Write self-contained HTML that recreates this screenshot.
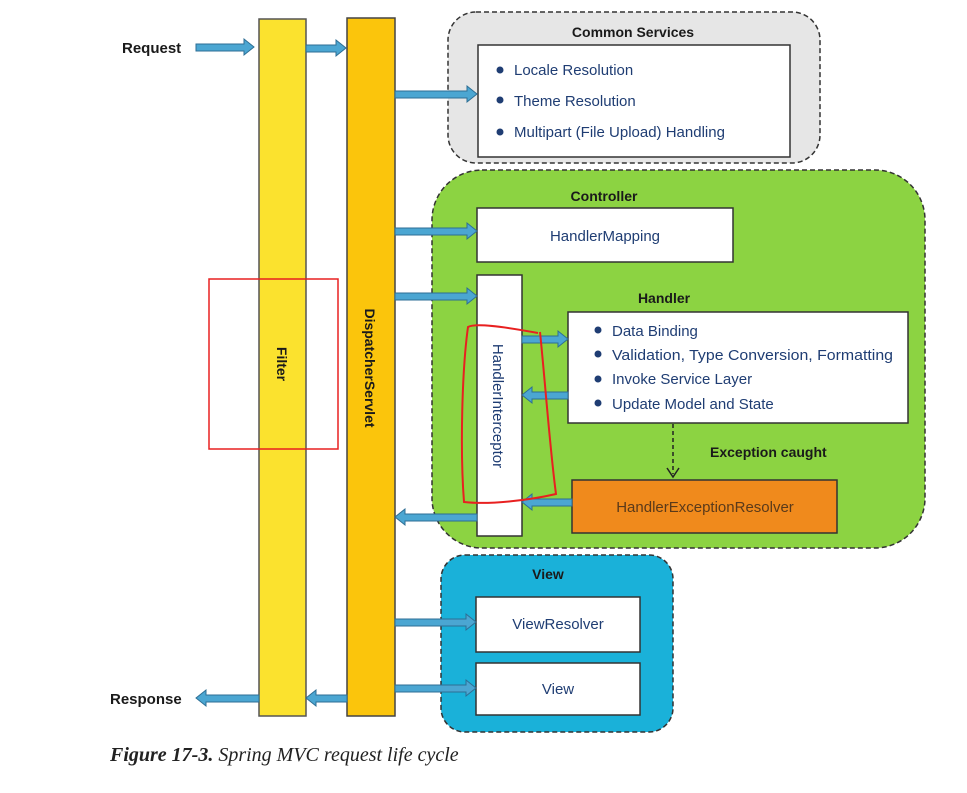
<!DOCTYPE html>
<html><head><meta charset="utf-8"><style>
html,body{margin:0;padding:0;background:#fff;width:967px;height:793px;overflow:hidden}
svg{display:block}
.t{font-family:"Liberation Sans",sans-serif;font-weight:bold;font-size:14px;fill:#1a1a1a}
.b{font-family:"Liberation Sans",sans-serif;font-size:15px;fill:#1f3d73}
.a{fill:#4ba6d2;stroke:#2d6e94;stroke-width:1}
.cap{font-family:"Liberation Serif",serif;font-style:italic;font-size:20px;fill:#222}
</style></head><body>
<svg width="967" height="793" viewBox="0 0 967 793">
<rect x="448" y="12" width="372" height="151" rx="28" fill="#e6e6e6" stroke="#333" stroke-width="1.5" stroke-dasharray="5,3"/>
<text x="633" y="37" text-anchor="middle" class="t">Common Services</text>
<rect x="478" y="45" width="312" height="112" fill="#fff" stroke="#333" stroke-width="1.5"/>
<circle cx="500" cy="70" r="3.5" fill="#1f3d73"/><text x="514" y="75" class="b">Locale Resolution</text>
<circle cx="500" cy="100" r="3.5" fill="#1f3d73"/><text x="514" y="106" class="b">Theme Resolution</text>
<circle cx="500" cy="132" r="3.5" fill="#1f3d73"/><text x="514" y="137" class="b">Multipart (File Upload) Handling</text>
<rect x="432" y="170" width="493" height="378" rx="50" fill="#8cd342" stroke="#333" stroke-width="1.5" stroke-dasharray="5,3"/>
<text x="604" y="201" text-anchor="middle" class="t">Controller</text>
<rect x="477" y="208" width="256" height="54" fill="#fff" stroke="#333" stroke-width="1.5"/>
<text x="605" y="241" text-anchor="middle" class="b">HandlerMapping</text>
<rect x="477" y="275" width="45" height="261" fill="#fff" stroke="#333" stroke-width="1.5"/>
<text transform="translate(493,406) rotate(90)" text-anchor="middle" class="b">HandlerInterceptor</text>
<text x="664" y="303" text-anchor="middle" class="t">Handler</text>
<rect x="568" y="312" width="340" height="111" fill="#fff" stroke="#333" stroke-width="1.5"/>
<circle cx="598" cy="330" r="3.5" fill="#1f3d73"/><text x="612" y="336" class="b">Data Binding</text>
<circle cx="598" cy="354" r="3.5" fill="#1f3d73"/><text x="612" y="360" class="b" textLength="281" lengthAdjust="spacingAndGlyphs">Validation, Type Conversion, Formatting</text>
<circle cx="598" cy="379" r="3.5" fill="#1f3d73"/><text x="612" y="384" class="b">Invoke Service Layer</text>
<circle cx="598" cy="403" r="3.5" fill="#1f3d73"/><text x="612" y="409" class="b">Update Model and State</text>
<line x1="673" y1="424" x2="673" y2="474" stroke="#222" stroke-width="1.5" stroke-dasharray="4,3"/>
<path d="M667 468 L673 477 L679 468" fill="none" stroke="#222" stroke-width="1.5"/>
<text x="710" y="457" class="t">Exception caught</text>
<rect x="572" y="480" width="265" height="53" fill="#f08a1c" stroke="#333" stroke-width="1.5"/>
<text x="705" y="512" text-anchor="middle" class="b" style="fill:#5a3a1a">HandlerExceptionResolver</text>
<rect x="441" y="555" width="232" height="177" rx="24" fill="#1ab1d9" stroke="#333" stroke-width="1.5" stroke-dasharray="5,3"/>
<text x="548" y="579" text-anchor="middle" class="t">View</text>
<rect x="476" y="597" width="164" height="55" fill="#fff" stroke="#333" stroke-width="1.5"/>
<text x="558" y="629" text-anchor="middle" class="b">ViewResolver</text>
<rect x="476" y="663" width="164" height="52" fill="#fff" stroke="#333" stroke-width="1.5"/>
<text x="558" y="694" text-anchor="middle" class="b">View</text>
<rect x="259" y="19" width="47" height="697" fill="#fbe22e" stroke="#555" stroke-width="1.5"/>
<text transform="translate(277,364) rotate(90)" text-anchor="middle" class="t">Filter</text>
<rect x="347" y="18" width="48" height="698" fill="#fbc50c" stroke="#444" stroke-width="1.5"/>
<text transform="translate(365,368) rotate(90)" text-anchor="middle" class="t">DispatcherServlet</text>
<text x="122" y="53" class="t" style="font-size:15px">Request</text>
<text x="110" y="704" class="t" style="font-size:15px">Response</text>
<path class="a" d="M196 44 H244 V39 L254 47 L244 55 V51 H196 Z"/>
<path class="a" d="M306 45 H336 V40 L346 48 L336 56 V52 H306 Z"/>
<path class="a" d="M395 91 H467 V86 L477 94 L467 102 V98 H395 Z"/>
<path class="a" d="M395 228 H467 V223 L477 231 L467 239 V235 H395 Z"/>
<path class="a" d="M395 293 H467 V288 L477 296 L467 304 V300 H395 Z"/>
<path class="a" d="M522 336 H558 V331 L568 339 L558 347 V343 H522 Z"/>
<path class="a" d="M395 619 H466 V614 L476 622 L466 630 V626 H395 Z"/>
<path class="a" d="M395 685 H466 V680 L476 688 L466 696 V692 H395 Z"/>
<path class="a" d="M568 392 H532 V387 L522 395 L532 403 V399 H568 Z"/>
<path class="a" d="M572 499 H532 V494 L522 502 L532 510 V506 H572 Z"/>
<path class="a" d="M477 514 H405 V509 L395 517 L405 525 V521 H477 Z"/>
<path class="a" d="M347 695 H316 V690 L306 698 L316 706 V702 H347 Z"/>
<path class="a" d="M259 695 H206 V690 L196 698 L206 706 V702 H259 Z"/>
<rect x="209" y="279" width="129" height="170" fill="none" stroke="#e82020" stroke-width="1.5"/>
<path d="M538 333 C500 326 475 323 468 327 C462 370 460 450 464 502 C490 505 530 500 556 494 C550 450 545 380 540 332" fill="none" stroke="#e82020" stroke-width="2"/>
<text x="110" y="761" class="cap"><tspan font-weight="bold" style="font-weight:bold">Figure 17-3.</tspan> Spring MVC request life cycle</text>
</svg>
</body></html>
